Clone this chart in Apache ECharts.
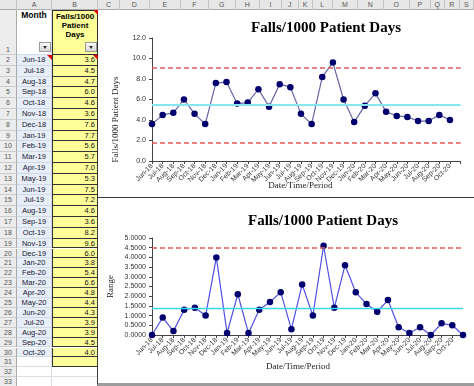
<!DOCTYPE html>
<html><head><meta charset="utf-8">
<script src="https://cdn.jsdelivr.net/npm/echarts/dist/echarts.min.js"></script>
<style>
html,body{margin:0;padding:0;background:#fff;}
#wrap{position:relative;width:474px;height:386px;overflow:hidden;background:#fff;}
#sheet{position:absolute;left:0;top:0;width:474px;height:386px;}
#chart{position:absolute;left:0;top:0;width:474px;height:386px;z-index:5;}
</style>
</head><body>
<div id="wrap"><div id="sheet"></div><div id="chart"></div></div>
<script>
// ---------- data ----------
const months = ['Jun-18','Jul-18','Aug-18','Sep-18','Oct-18','Nov-18','Dec-18','Jan-19','Feb-19','Mar-19','Apr-19','May-19','Jun-19','Jul-19','Aug-19','Sep-19','Oct-19','Nov-19','Dec-19','Jan-20','Feb-20','Mar-20','Apr-20','May-20','Jun-20','Jul-20','Aug-20','Sep-20','Oct-20'];
const falls = [3.6,4.5,4.7,6.0,4.6,3.6,7.6,7.7,5.6,5.7,7.0,5.3,7.5,7.2,4.6,3.6,8.2,9.6,6.0,3.8,5.4,6.6,4.8,4.4,4.3,3.9,3.9,4.5,4.0];
const chartCats = months.concat(['']);
const movingRange = [0.0,0.9,0.2,1.3,1.4,1.0,4.0,0.1,2.1,0.1,1.3,1.7,2.2,0.3,2.6,1.0,4.6,1.4,3.6,2.2,1.6,1.2,1.8,0.4,0.1,0.4,0.0,0.6,0.5,0.0];
const fallsMean = 5.45, fallsUCL = 9.12, fallsLCL = 1.79;
const rangeMean = 1.38, rangeUCL = 4.51;
const columnLetters = ['A','B','C','D','E','F','G','H','I','J','K','L','M','N','O','P','Q','R','S'];
const chartTitle = 'Falls/1000 Patient Days';
const headerA = 'Month';
const headerB = ['Falls/1000','Patient','Days'];

// ---------- spreadsheet ----------
const root = document.getElementById('sheet');
function el(x,y,w,h,css,text){
  const d=document.createElement('div');
  d.style.cssText=`position:absolute;left:${x}px;top:${y}px;width:${w}px;height:${h}px;box-sizing:border-box;overflow:hidden;white-space:nowrap;${css}`;
  if(text!=null) d.textContent=text;
  root.appendChild(d); return d;
}
const colBounds=[0,17,52,98,120,149.5,181,209,235.5,260,282,298.5,312.5,333,358,383.5,410,430.5,445,459.5,474];
el(0,0,474,10,'background:#e7e7e7;border-bottom:1px solid #a9a9a9');
for(let i=0;i<colBounds.length-1;i++){
  el(colBounds[i],0,colBounds[i+1]-colBounds[i],10,'border-right:1px solid #c4c4c4;font:7px "Liberation Sans";color:#555;text-align:center;line-height:10px', i===0?'':columnLetters[i-1]);
}
function rowTop(r){ if(r===1) return 10; if(r<=19) return 55+(r-2)*10.8; return 238.6+(r-19)*9.9; }
function rowH(r){ if(r===1) return 45; if(r<=18) return 10.8; return 9.9; }
for(let r=1;r<=33;r++){
  const t=rowTop(r), h=rowH(r);
  el(0,t,17,h,`background:#ececec;border-right:1px solid #a9a9a9;border-bottom:1px solid #cdcdcd;font:7px "Liberation Sans";color:#555;text-align:center;line-height:${r===1?9:h}px;${r===1?'padding-top:35px;':''}`, String(r));
  // column A
  if(r===1){
    el(17,t,35,h,'background:#fff;border-right:1px solid #d0d8e4;border-bottom:1px solid #d0d8e4;font:bold 8.5px "Liberation Sans";color:#000;text-align:center;line-height:10px;padding-top:0px', headerA);
  } else if(r<=30){
    el(17,t,35,h,`background:#e8eef7;border-right:1px solid #d0d8e4;border-bottom:1px solid #d0d8e4;font:7.5px "Liberation Sans";color:#151530;text-align:center;line-height:${h}px`, months[r-2]);
  } else {
    el(17,t,35,h,'background:#fff;border-right:1px solid #d8dde6;border-bottom:1px solid #d8dde6');
  }
  // column B
  if(r===1){
    const b=el(52,t,46,h,'background:#ffff99;border:1px solid #333;font:bold 8px "Liberation Sans";color:#000;text-align:center;line-height:9px;padding-top:1px;white-space:normal');
    b.innerHTML=headerB.join('<br>');
  } else if(r<=30){
    el(52,t,46,h,`background:#ffff99;border-left:1px solid #333;border-right:1px solid #333;border-bottom:1px solid #333;font:7.5px "Liberation Sans";color:#111;text-align:right;padding-right:2px;line-height:${h}px`, falls[r-2].toFixed(1));
  } else if(r===31){
    el(52,t,46,h,'background:#ffff99;border-left:1px solid #333;border-right:1px solid #333;border-bottom:1px solid #333');
  } else {
    el(52,t,46,h,'background:#fff;border-right:1px solid #d8dde6;border-bottom:1px solid #d8dde6');
  }
}
// filter buttons
function filterBtn(x,y){
  el(x,y,12,10,'background:linear-gradient(#fafafa,#d6d6d6);border:1px solid #9a9a9a');
  el(x+3.5,y+4,0,0,'border-left:2.5px solid transparent;border-right:2.5px solid transparent;border-top:3px solid #333;overflow:visible');
}
filterBtn(39,42); filterBtn(85,42);
// comment indicators
function redTri(x,y){ el(x-5,y,0,0,'border-top:5px solid #e00000;border-left:5px solid transparent;overflow:visible'); }
redTri(98,10); redTri(52,55); redTri(98,55);
// chart frames
el(98,10,376,187,'background:#fff');
el(97,197,377,189,'background:#fff;border-top:1.5px solid #3a3a3a;border-left:1.5px solid #3a3a3a;border-bottom:3px solid #9c9c9c');

// ---------- charts ----------
const chart = echarts.init(document.getElementById('chart'), null, {renderer:'canvas'});
const tickFont = {fontFamily:'Liberation Sans', fontSize:7, color:'#333'};
const nameFont = {fontFamily:'Liberation Serif', fontSize:9, color:'#222'};
const axisLine = {lineStyle:{color:'#444', width:1}};
const dashRed = {type:[5,3], color:'#e05a5a', width:1.5};
const option = {
  animation:false,
  title:[
    {text:chartTitle, left:326, top:21, textAlign:'center', padding:0, textStyle:{fontFamily:'Liberation Serif', fontWeight:'bold', fontSize:15, color:'#000'}},
    {text:chartTitle, left:323, top:214, textAlign:'center', padding:0, textStyle:{fontFamily:'Liberation Serif', fontWeight:'bold', fontSize:15, color:'#000'}}
  ],
  grid:[
    {left:152, right:13.4, top:38, bottom:225, outerBoundsMode:'none', containLabel:false},
    {left:152, right:11, top:238, bottom:51, outerBoundsMode:'none', containLabel:false}
  ],
  xAxis:[
    {gridIndex:0, type:'category', data:chartCats, boundaryGap:false, axisLine:axisLine,
     axisTick:{show:true, length:3, interval:0, lineStyle:{color:'#444'}},
     axisLabel:Object.assign({interval:0, rotate:45, margin:4}, tickFont),
     splitLine:{show:false},
     name:'Date/Time/Period', nameLocation:'middle', nameGap:20, nameMoveOverlap:false,
     nameTextStyle:Object.assign({padding:[0,12,0,0]}, nameFont)},
    {gridIndex:1, type:'category', data:chartCats, boundaryGap:false, axisLine:axisLine,
     axisTick:{show:true, length:3, interval:0, lineStyle:{color:'#444'}},
     axisLabel:Object.assign({interval:0, rotate:45, margin:4}, tickFont),
     splitLine:{show:false},
     name:'Date/Time/Period', nameLocation:'middle', nameGap:27, nameMoveOverlap:false,
     nameTextStyle:Object.assign({padding:[0,19,0,0]}, nameFont)}
  ],
  yAxis:[
    {gridIndex:0, type:'value', min:0, max:12, interval:2, axisLine:Object.assign({show:true},axisLine),
     axisTick:{show:true, length:3, lineStyle:{color:'#444'}},
     axisLabel:Object.assign({margin:6, formatter:v=>v.toFixed(1)}, tickFont),
     splitLine:{show:false},
     name:'Falls/1000 Patient Days', nameLocation:'middle', nameGap:32, nameMoveOverlap:false,
     nameTextStyle:Object.assign({padding:[0,40,0,0]}, nameFont)},
    {gridIndex:1, type:'value', min:0, max:5, interval:0.5, axisLine:Object.assign({show:true},axisLine),
     axisTick:{show:true, length:3, lineStyle:{color:'#444'}},
     axisLabel:Object.assign({margin:6, formatter:v=>v.toFixed(4)}, tickFont),
     splitLine:{show:false},
     name:'Range', nameLocation:'middle', nameGap:37, nameMoveOverlap:false,
     nameTextStyle:nameFont}
  ],
  series:[
    {type:'line', xAxisIndex:0, yAxisIndex:0, data:[], z:1, silent:true,
     markLine:{silent:true, symbol:'none', label:{show:false}, animation:false,
       data:[{yAxis:fallsUCL, lineStyle:dashRed},{yAxis:fallsMean, lineStyle:{type:'solid', color:'#86e6f0', width:2.2}},{yAxis:fallsLCL, lineStyle:dashRed}]}},
    {type:'line', xAxisIndex:0, yAxisIndex:0, data:falls, z:3, symbol:'circle', symbolSize:6.5, showAllSymbol:true,
     itemStyle:{color:'#00006e'}, lineStyle:{color:'#6464a6', width:1.2}},
    {type:'line', xAxisIndex:1, yAxisIndex:1, data:[], z:1, silent:true,
     markLine:{silent:true, symbol:'none', label:{show:false}, animation:false,
       data:[{yAxis:rangeUCL, lineStyle:dashRed},{yAxis:rangeMean, lineStyle:{type:'solid', color:'#3ed6f0', width:1.4}}]}},
    {type:'line', xAxisIndex:1, yAxisIndex:1, data:movingRange, z:3, symbol:'circle', symbolSize:6.5, showAllSymbol:true,
     itemStyle:{color:'#00006e'}, lineStyle:{color:'#4f4fe6', width:1.2}}
  ]
};
chart.setOption(option);
</script>
</body></html>
